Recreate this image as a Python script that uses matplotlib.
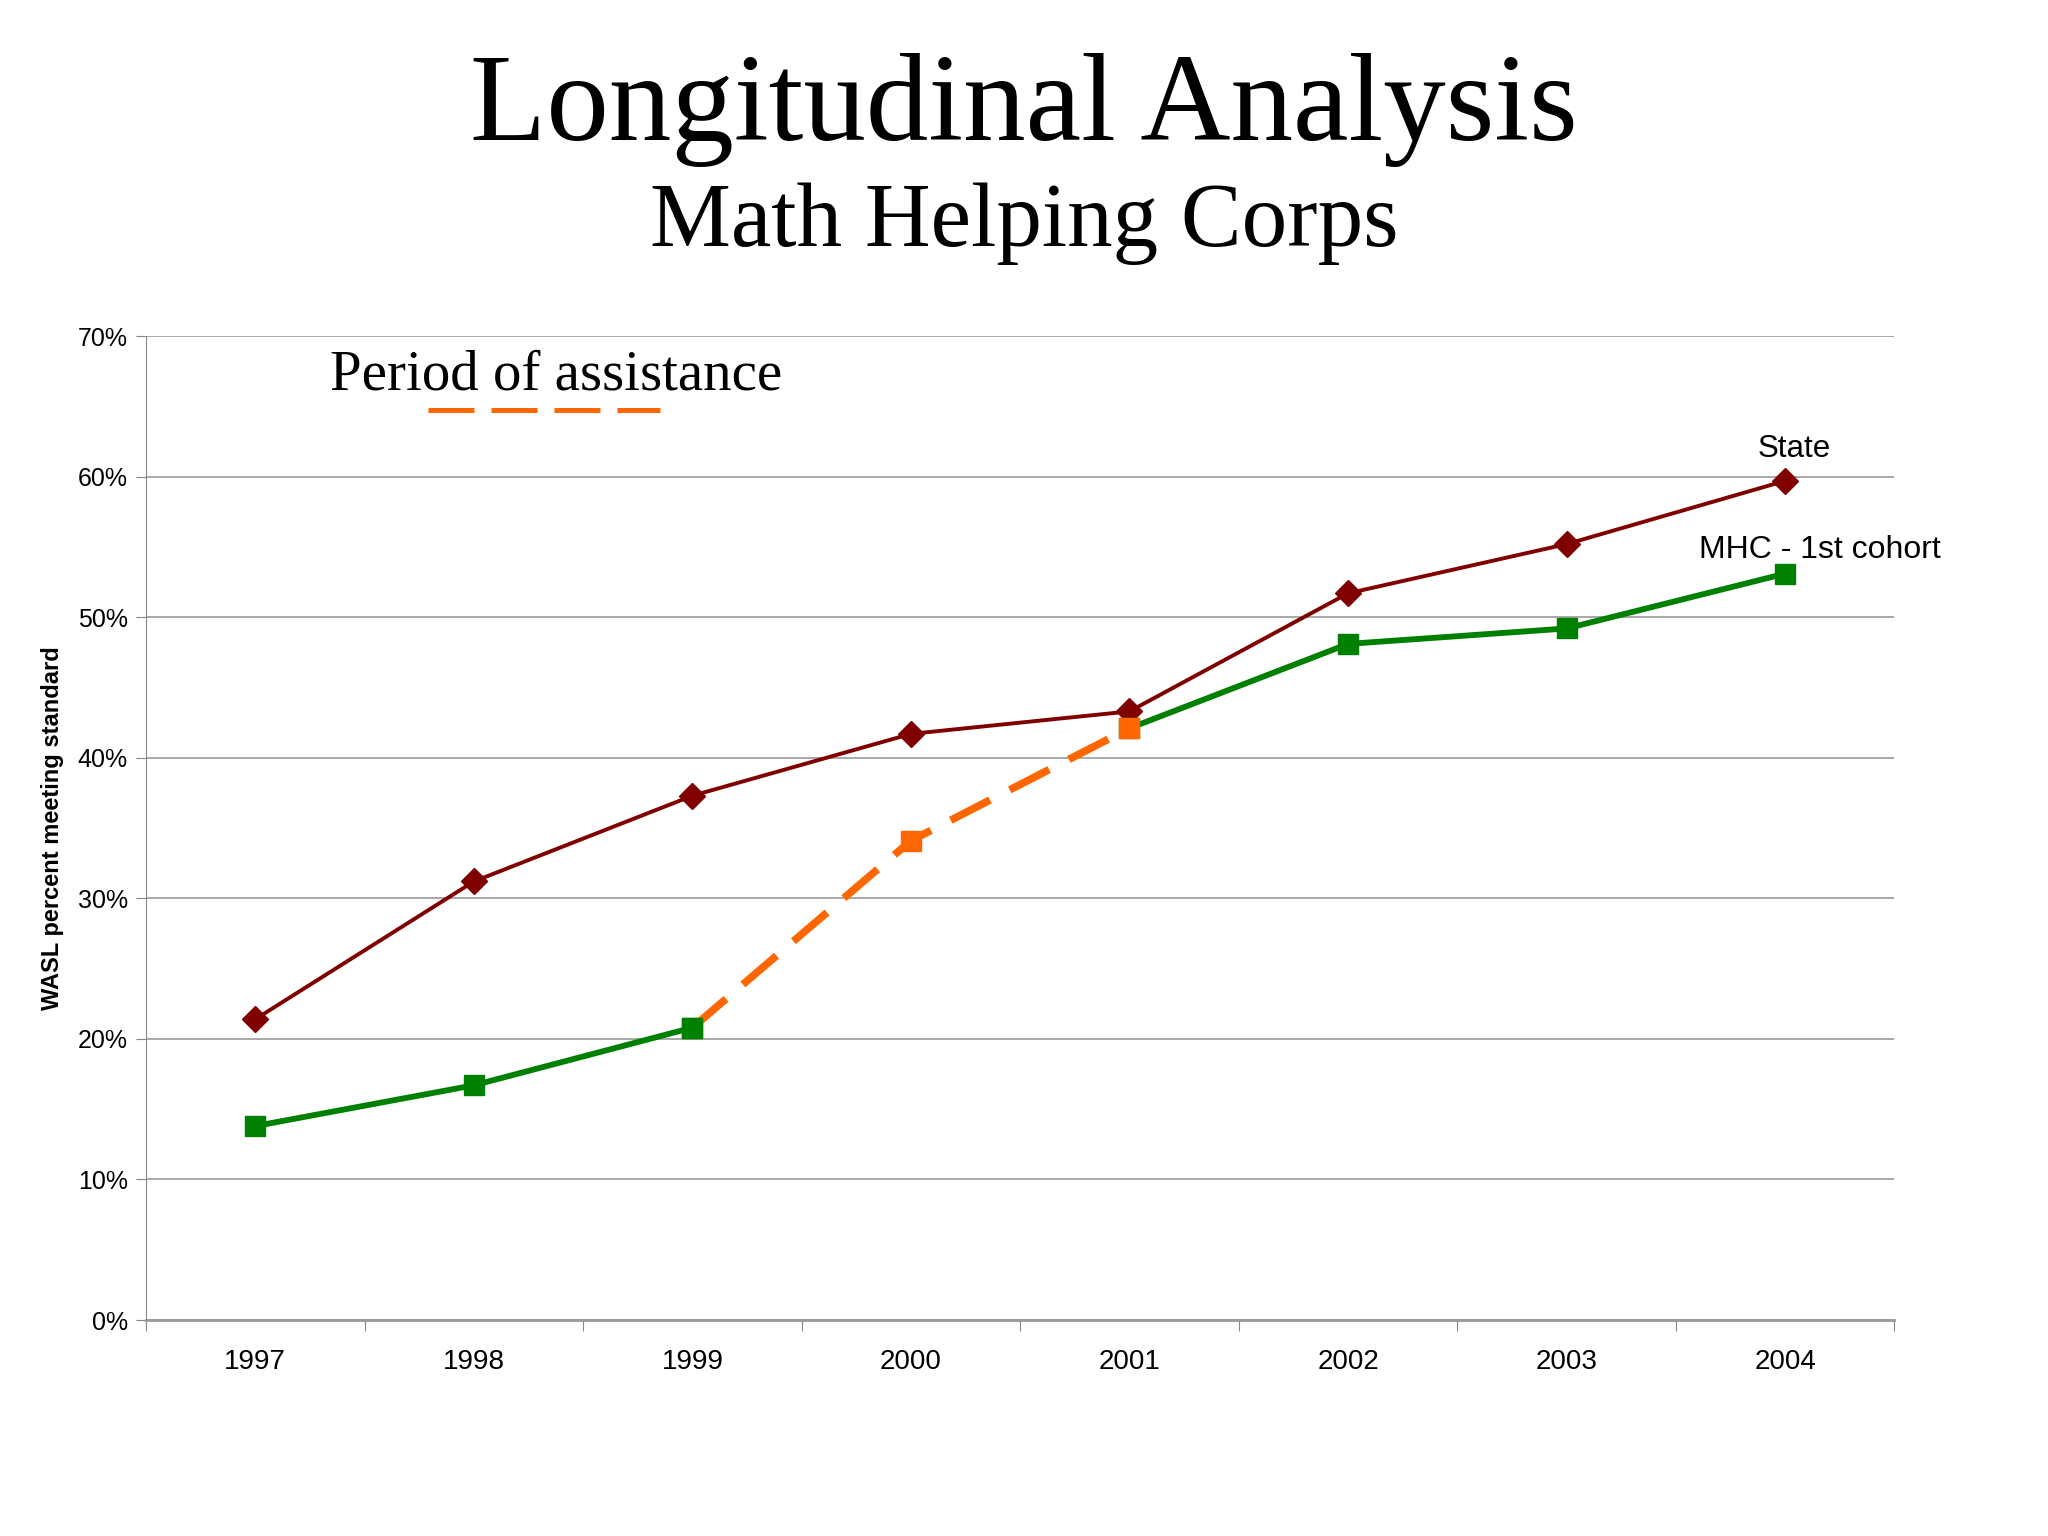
import matplotlib
matplotlib.use('Agg')
import matplotlib.pyplot as plt

years = ['1997', '1998', '1999', '2000', '2001', '2002', '2003', '2004']
state = [21.4, 31.2, 37.3, 41.7, 43.3, 51.7, 55.2, 59.7]
mhc = [13.8, 16.7, 20.8, 34.1, 42.1, 48.1, 49.2, 53.1]
# years of assistance (drawn dashed orange): 1999-2001
assist_start, assist_end = 2, 4

serif = ['Liberation Serif', 'DejaVu Serif']
sans = ['Liberation Sans', 'DejaVu Sans']

fig = plt.figure(figsize=(20.48, 15.36), dpi=100)
ax = fig.add_axes([0.0713, 0.1406, 0.8537, 0.6406])

x = list(range(len(years)))

ax.plot(x, state, color='#800000', lw=2.8, marker='D', ms=13.5, zorder=3)
ax.plot(x[:assist_start + 1], mhc[:assist_start + 1], color='#008000', lw=4.2,
        marker='s', ms=15, zorder=4)
ax.plot(x[assist_end:], mhc[assist_end:], color='#008000', lw=4.2,
        marker='s', ms=15, zorder=4)
ax.plot(x[assist_start:assist_end + 1], mhc[assist_start:assist_end + 1],
        color='#FF6600', lw=5.5, ls=(0, (5.8, 2.9)), dash_capstyle='butt',
        marker='s', ms=15, markevery=[1, 2], zorder=5)
# keep the 1999 marker green on top of the dashed part
ax.plot(x[assist_start], mhc[assist_start], color='#008000', marker='s',
        ms=15, zorder=6, ls='none')

ax.set_xlim(-0.5, len(years) - 0.5)
ax.set_ylim(0, 70)
ax.set_yticks(range(0, 71, 10))
ax.set_yticklabels([f'{v}%' for v in range(0, 71, 10)], family=sans, fontsize=18)
ax.set_xticks([i - 0.5 for i in range(len(years) + 1)])
ax.set_xticklabels([])
ax.set_xticks(x, minor=True)
ax.set_xticklabels(years, minor=True, family=sans, fontsize=20)
ax.tick_params(axis='x', which='major', direction='out', length=8, color='#888888')
ax.tick_params(axis='x', which='minor', length=0, pad=21)
ax.tick_params(axis='y', direction='out', length=7, color='#888888', pad=6)

ax.grid(axis='y', color='#999999', lw=1.2)
ax.set_axisbelow(True)
for s in ['top', 'right']:
    ax.spines[s].set_visible(False)
ax.spines['left'].set_color('#888888')
ax.spines['bottom'].set_color('#999999')
ax.spines['bottom'].set_linewidth(2)

ax.set_ylabel('WASL percent meeting standard', family=sans, fontsize=17,
              fontweight='bold', labelpad=10)

ax.text(7.04, 61.4, 'State', family=sans, fontsize=22.5, ha='center', va='baseline')
ax.text(7.16, 54.2, 'MHC - 1st cohort', family=sans, fontsize=23, ha='center', va='baseline')

ax.text(0.2346, 0.946, 'Period of assistance', transform=ax.transAxes,
        family=serif, fontsize=41, ha='center', va='baseline')
ax.plot([0.161, 0.294], [0.925, 0.925], transform=ax.transAxes, color='#FF6600',
        lw=3.6, ls=(0, (9.2, 3.4)), dash_capstyle='butt')

fig.text(0.5, 1 - 140 / 1536, 'Longitudinal Analysis', family=serif, fontsize=90,
         ha='center', va='baseline')
fig.text(0.5, 1 - 246 / 1536, 'Math Helping Corps', family=serif, fontsize=65.5,
         ha='center', va='baseline')

fig.savefig('out.png', dpi=100, facecolor='white')
